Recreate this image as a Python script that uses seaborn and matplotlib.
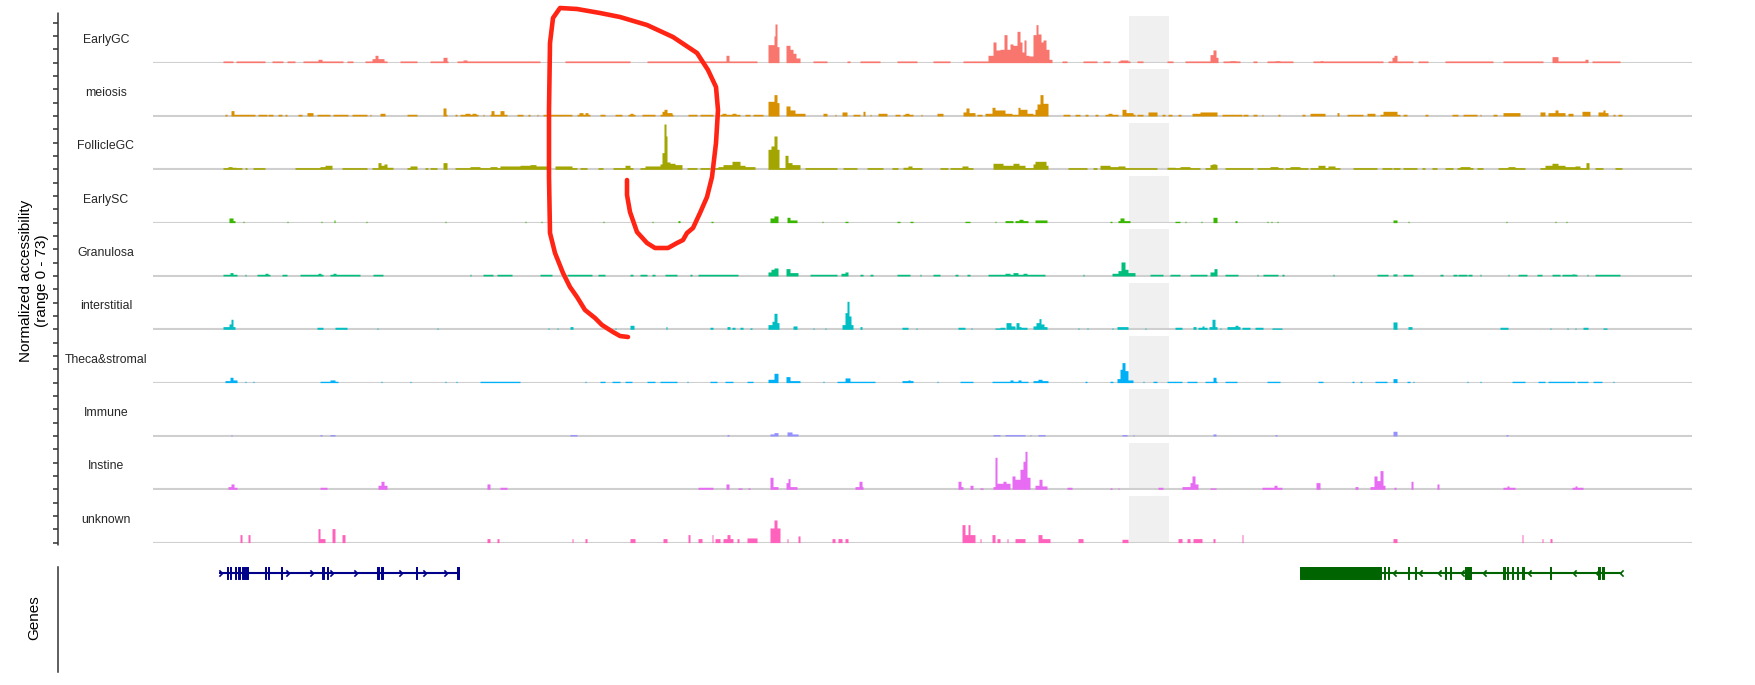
import numpy as np
import pandas as pd
import matplotlib
matplotlib.use("Agg")
import matplotlib.pyplot as plt
from matplotlib.lines import Line2D
import seaborn as sns

# ---------------- data ----------------
# genomic positions in units of 100 bp
REGION = (153, 1692)
HIGHLIGHT = (1129, 1169)
Y_RANGE = (0, 73)
THIN_LEVEL = 2.5

CELL_TYPES = ["EarlyGC", "meiosis", "FollicleGC", "EarlySC", "Granulosa",
              "interstitial", "Theca&stromal", "Immune", "Instine", "unknown"]
TRACK_COLORS = ["#F8766D", "#D89000", "#A3A500", "#39B600", "#00BF7D",
                "#00BFC4", "#00B0F6", "#9590FF", "#E76BF3", "#FF62BC"]

EARLYGC_LOW = [(223, 233), (236, 265), (272, 283), (287, 295), (303, 343), (347, 353), (365, 387),
               (400, 417), (430, 448), (457, 540), (565, 630), (647, 757), (813, 827), (847, 850),
               (860, 880), (897, 917), (933, 950), (963, 988), (1062, 1067), (1083, 1097), (1103, 1110),
               (1118, 1130), (1137, 1143), (1167, 1173), (1185, 1217), (1223, 1240), (1253, 1257),
               (1267, 1293), (1313, 1383), (1388, 1413), (1418, 1428), (1445, 1493), (1503, 1543),
               (1552, 1588), (1592, 1620)]
EARLYGC_PEAKS = [(318, 322, 5), (372, 375, 6), (375, 378, 11), (378, 384, 6), (443, 447, 8), (463, 467, 4),
                 (726, 729, 11), (768, 774, 27), (774, 775, 40), (775, 777, 58), (777, 779, 24),
                 (786, 790, 26), (790, 793, 20), (793, 796, 14), (796, 800, 7),
                 (988, 993, 11), (993, 996, 31), (996, 1000, 19), (1000, 1004, 20), (1004, 1007, 42),
                 (1007, 1010, 20), (1010, 1013, 28), (1013, 1017, 26), (1017, 1020, 47), (1020, 1022, 31),
                 (1022, 1024, 16), (1024, 1026, 34), (1026, 1029, 11), (1029, 1033, 10), (1033, 1036, 42),
                 (1036, 1038, 57), (1038, 1041, 43), (1041, 1043, 31), (1043, 1046, 34), (1046, 1049, 20),
                 (1049, 1052, 5), (1120, 1128, 4), (1210, 1213, 12), (1213, 1216, 19), (1216, 1218, 8),
                 (1230, 1236, 3), (1275, 1280, 3), (1320, 1323, 3), (1392, 1394, 8), (1394, 1397, 11),
                 (1552, 1558, 9), (1585, 1588, 5)]

MEIOSIS_LOW = [(225, 227), (233, 255), (258, 267), (268, 273), (278, 282), (285, 287), (298, 302),
               (307, 313), (317, 330), (333, 348), (352, 367), (370, 371), (380, 385), (407, 417),
               (443, 447), (455, 457), (460, 478), (483, 484), (490, 507), (517, 523), (528, 530),
               (537, 538), (543, 572), (577, 590), (600, 605), (615, 622), (628, 635), (642, 655),
               (660, 673), (688, 697), (700, 713), (720, 740), (745, 750), (753, 763), (786, 805),
               (823, 827), (835, 836), (842, 847), (853, 860), (863, 865), (870, 871), (878, 887),
               (895, 900), (903, 913), (921, 922), (937, 943), (963, 975), (977, 982), (985, 1048),
               (1063, 1070), (1075, 1080), (1085, 1088), (1095, 1098), (1105, 1118), (1122, 1135),
               (1137, 1143), (1148, 1157), (1162, 1165), (1168, 1172), (1178, 1181), (1192, 1200),
               (1202, 1215), (1222, 1242), (1243, 1248), (1253, 1257), (1262, 1263), (1278, 1280),
               (1302, 1305), (1310, 1325), (1337, 1339), (1347, 1363), (1367, 1375), (1380, 1400),
               (1403, 1407), (1425, 1428), (1452, 1458), (1463, 1477), (1480, 1481), (1493, 1497),
               (1503, 1520), (1540, 1545), (1548, 1565), (1568, 1573), (1582, 1590), (1598, 1608),
               (1613, 1615), (1618, 1622)]
MEIOSIS_PEAKS = [(231, 234, 8), (307, 313, 5), (380, 385, 4), (443, 446, 12), (465, 470, 4), (472, 476, 4),
                 (491, 494, 8), (500, 504, 8), (579, 583, 5), (585, 588, 5), (630, 633, 4), (662, 664, 7),
                 (664, 667, 10), (667, 672, 5), (722, 726, 4), (732, 736, 4),
                 (768, 774, 22), (774, 777, 32), (777, 779, 20), (786, 790, 15), (790, 795, 9), (795, 805, 4),
                 (823, 827, 4), (842, 847, 6), (863, 865, 7), (878, 887, 4), (905, 909, 4), (937, 943, 4),
                 (963, 966, 6), (966, 969, 12), (969, 975, 5), (985, 992, 4), (992, 995, 13), (995, 1005, 9),
                 (1005, 1012, 4), (1018, 1020, 13), (1020, 1027, 10), (1027, 1033, 4), (1035, 1037, 10),
                 (1037, 1040, 18), (1040, 1043, 32), (1043, 1048, 19), (1108, 1112, 4), (1122, 1126, 10),
                 (1126, 1133, 5), (1148, 1157, 6), (1192, 1200, 4), (1200, 1208, 6), (1208, 1217, 6),
                 (1310, 1325, 4), (1337, 1339, 5), (1367, 1375, 4), (1383, 1397, 7), (1503, 1520, 5),
                 (1540, 1545, 6), (1548, 1555, 5), (1555, 1558, 9), (1558, 1565, 5), (1568, 1573, 4),
                 (1582, 1590, 7), (1598, 1603, 6), (1603, 1605, 9), (1605, 1608, 5)]

FOLLICLEGC_LOW = [(223, 242), (245, 247), (253, 265), (295, 332), (342, 367), (372, 393), (407, 417),
                  (425, 428), (430, 437), (443, 447), (455, 548), (555, 577), (580, 587), (598, 603),
                  (613, 633), (640, 682), (687, 697), (700, 710), (713, 755), (768, 800), (805, 837),
                  (843, 857), (867, 883), (892, 898), (903, 922), (940, 948), (950, 973), (993, 1048),
                  (1068, 1087), (1093, 1097), (1100, 1157), (1167, 1200), (1205, 1217), (1225, 1253),
                  (1257, 1283), (1285, 1308), (1310, 1340), (1353, 1377), (1382, 1392), (1393, 1400),
                  (1403, 1417), (1422, 1425), (1432, 1437), (1445, 1453), (1457, 1473), (1477, 1483),
                  (1498, 1525), (1540, 1588), (1595, 1603), (1615, 1622)]
FOLLICLEGC_PEAKS = [(228, 232, 4), (232, 236, 3), (320, 325, 4), (325, 332, 6), (378, 381, 10), (381, 384, 6),
                    (384, 387, 8), (387, 393, 3), (410, 417, 5), (443, 447, 10), (470, 480, 4), (490, 497, 4),
                    (500, 520, 5), (520, 530, 6), (530, 536, 7), (536, 548, 5), (555, 565, 5), (565, 572, 5),
                    (625, 630, 6), (645, 660, 5), (660, 662, 8), (662, 664, 25), (664, 666, 68), (666, 667, 50),
                    (667, 670, 11), (670, 675, 9), (675, 682, 7),
                    (718, 723, 4), (723, 732, 7), (732, 740, 12), (740, 745, 6), (745, 755, 4),
                    (768, 771, 30), (771, 774, 35), (774, 777, 50), (777, 779, 30), (785, 788, 21),
                    (788, 792, 10), (792, 800, 7), (903, 908, 3), (908, 912, 5), (962, 968, 5),
                    (993, 1003, 9), (1003, 1013, 6), (1013, 1019, 9), (1019, 1025, 6), (1033, 1035, 8),
                    (1035, 1046, 12), (1046, 1048, 6), (1100, 1110, 6), (1110, 1118, 4), (1118, 1125, 5),
                    (1167, 1175, 3), (1180, 1190, 4), (1210, 1217, 7), (1212, 1216, 8), (1270, 1278, 4),
                    (1290, 1300, 4), (1318, 1325, 6), (1328, 1335, 5), (1460, 1470, 4), (1508, 1515, 4),
                    (1545, 1552, 6), (1552, 1558, 9), (1558, 1565, 6), (1565, 1575, 4), (1575, 1580, 5),
                    (1586, 1589, 10)]

EARLYSC_LOW = []
EARLYSC_PEAKS = [(229, 233, 7), (233, 235, 3), (243, 244, 2), (287, 288, 2), (321, 322, 2), (334, 335, 4),
                 (366, 367, 2), (445, 446, 2), (525, 526, 2), (541, 542, 2), (603, 604, 2), (652, 653, 2),
                 (678, 680, 3), (711, 713, 2), (770, 774, 7), (774, 778, 10), (787, 790, 8), (790, 797, 4),
                 (822, 823, 2), (845, 848, 2), (897, 900, 2), (910, 913, 2), (965, 970, 2), (995, 996, 2),
                 (1005, 1013, 3), (1015, 1028, 3), (1019, 1023, 5), (1035, 1047, 4), (1110, 1112, 2),
                 (1118, 1130, 3), (1120, 1124, 7), (1175, 1180, 2), (1185, 1186, 2), (1201, 1202, 2),
                 (1213, 1217, 8), (1235, 1237, 3), (1267, 1268, 2), (1271, 1272, 2), (1277, 1278, 2),
                 (1393, 1397, 4), (1408, 1409, 2), (1506, 1507, 2), (1555, 1556, 2), (1566, 1567, 2)]

GRANULOSA_LOW = [(223, 237), (245, 246), (257, 270), (282, 287), (300, 323), (330, 360), (373, 383),
                 (470, 471), (483, 493), (497, 512), (540, 552), (567, 592), (598, 605), (630, 633),
                 (640, 647), (652, 655), (665, 677), (690, 692), (698, 738), (770, 778), (786, 798),
                 (810, 837), (843, 848), (860, 863), (870, 873), (897, 910), (920, 921), (933, 940),
                 (955, 958), (967, 970), (988, 1045), (1083, 1084), (1112, 1135), (1150, 1163),
                 (1170, 1180), (1190, 1207), (1212, 1217), (1225, 1238), (1257, 1258), (1263, 1278),
                 (1282, 1284), (1333, 1334), (1377, 1388), (1393, 1397), (1403, 1413), (1440, 1443),
                 (1453, 1457), (1458, 1467), (1468, 1472), (1480, 1481), (1508, 1509), (1518, 1527),
                 (1537, 1542), (1552, 1560), (1562, 1577), (1587, 1588), (1595, 1620)]
GRANULOSA_PEAKS = [(230, 233, 5), (265, 268, 4), (318, 321, 4), (333, 336, 4), (768, 771, 6), (771, 774, 10),
                   (774, 778, 12), (786, 790, 11), (790, 798, 5), (841, 845, 4), (845, 848, 6),
                   (1005, 1010, 4), (1013, 1018, 5), (1023, 1027, 4), (1112, 1118, 4), (1118, 1121, 8),
                   (1121, 1125, 21), (1125, 1128, 10), (1128, 1135, 5), (1210, 1214, 6), (1214, 1217, 11),
                   (1393, 1397, 3), (1572, 1575, 3)]

INTERSTITIAL_LOW = []
INTERSTITIAL_PEAKS = [(223, 229, 4), (229, 231, 8), (231, 233, 15), (233, 235, 4), (317, 323, 3), (335, 347, 3),
                      (377, 378, 2), (437, 438, 2), (548, 549, 2), (557, 558, 2), (570, 573, 4), (615, 616, 2),
                      (630, 634, 6), (666, 667, 4), (710, 713, 3), (727, 730, 4), (732, 735, 3), (740, 743, 3),
                      (750, 752, 2), (768, 772, 7), (772, 774, 12), (774, 777, 24), (777, 779, 10),
                      (793, 797, 5), (813, 814, 2), (825, 826, 2), (842, 845, 7), (845, 847, 25),
                      (847, 849, 42), (849, 851, 20), (851, 853, 7), (860, 862, 4), (902, 908, 3),
                      (916, 917, 2), (958, 965, 3), (971, 972, 2), (995, 1000, 2), (1000, 1005, 3),
                      (1006, 1011, 10), (1011, 1015, 5), (1016, 1019, 10), (1019, 1021, 4), (1021, 1027, 3),
                      (1033, 1036, 5), (1036, 1039, 10), (1039, 1041, 16), (1041, 1044, 8), (1044, 1047, 4),
                      (1078, 1079, 2), (1087, 1088, 2), (1112, 1113, 2), (1117, 1128, 4), (1145, 1146, 2),
                      (1175, 1182, 3), (1193, 1196, 4), (1198, 1207, 3), (1202, 1204, 5), (1209, 1212, 4),
                      (1212, 1215, 15), (1215, 1217, 4), (1220, 1221, 2), (1227, 1240, 4), (1235, 1238, 6),
                      (1242, 1250, 3), (1255, 1263, 3), (1272, 1282, 2), (1393, 1397, 11), (1408, 1412, 4),
                      (1500, 1508, 3), (1550, 1551, 2), (1567, 1568, 2), (1575, 1576, 2), (1583, 1588, 3),
                      (1603, 1607, 2)]

THECA_LOW = []
THECA_PEAKS = [(225, 230, 3), (230, 233, 8), (233, 237, 4), (245, 246, 2), (253, 254, 2), (320, 338, 2),
               (330, 335, 4), (381, 382, 2), (410, 411, 2), (445, 446, 2), (456, 457, 2), (480, 520, 2),
               (585, 586, 2), (600, 605, 2), (612, 620, 2), (625, 632, 2), (647, 655, 2), (660, 677, 2),
               (687, 688, 2), (710, 717, 2), (725, 733, 2), (747, 753, 2), (768, 774, 5), (774, 778, 14),
               (786, 790, 9), (790, 800, 3), (823, 824, 2), (837, 875, 2), (845, 850, 7), (902, 913, 3),
               (908, 910, 4), (937, 938, 2), (960, 973, 2), (992, 1028, 2), (1010, 1013, 4), (1018, 1021, 4),
               (1033, 1048, 3), (1038, 1042, 5), (1085, 1087, 2), (1110, 1113, 2), (1117, 1120, 6),
               (1120, 1122, 20), (1122, 1125, 30), (1125, 1128, 18), (1128, 1133, 4), (1143, 1144, 2),
               (1153, 1157, 2), (1167, 1182, 2), (1187, 1197, 2), (1205, 1217, 2), (1213, 1216, 8),
               (1225, 1237, 2), (1267, 1280, 2), (1318, 1323, 2), (1352, 1354, 2), (1360, 1362, 2),
               (1375, 1387, 2), (1393, 1397, 6), (1407, 1410, 2), (1413, 1414, 2), (1467, 1468, 2),
               (1480, 1481, 2), (1512, 1525, 2), (1538, 1545, 2), (1548, 1575, 2), (1577, 1588, 2),
               (1593, 1602, 2), (1613, 1614, 2)]

IMMUNE_LOW = []
IMMUNE_PEAKS = [(231, 232, 2), (320, 322, 2), (330, 335, 2), (570, 577, 2), (727, 729, 2), (770, 774, 3),
                (774, 778, 5), (787, 792, 6), (792, 798, 3), (993, 1000, 2), (1005, 1025, 2), (1030, 1031, 2),
                (1038, 1045, 2), (1122, 1127, 2), (1133, 1134, 2), (1213, 1216, 3), (1275, 1277, 2),
                (1393, 1397, 7), (1506, 1508, 2)]

INSTINE_LOW = []
INSTINE_PEAKS = [(228, 231, 4), (231, 234, 8), (234, 237, 3), (320, 327, 3), (378, 381, 6), (381, 384, 12),
                 (384, 387, 6), (487, 490, 8), (500, 507, 3), (698, 713, 3), (726, 729, 8), (738, 742, 2),
                 (748, 750, 2), (770, 773, 18), (773, 778, 4), (786, 788, 10), (788, 790, 16), (790, 797, 4),
                 (855, 859, 4), (859, 862, 12), (862, 863, 4), (958, 961, 12), (961, 963, 4), (970, 973, 6),
                 (980, 983, 2), (993, 995, 4), (995, 997, 48), (997, 1003, 9), (1003, 1006, 12),
                 (1006, 1010, 9), (1012, 1015, 20), (1015, 1020, 15), (1020, 1023, 30), (1023, 1025, 42),
                 (1025, 1027, 57), (1027, 1030, 18), (1035, 1039, 6), (1039, 1042, 15), (1042, 1047, 5),
                 (1067, 1072, 3), (1110, 1112, 2), (1118, 1119, 2), (1158, 1163, 3), (1182, 1190, 4),
                 (1190, 1192, 10), (1192, 1195, 20), (1195, 1198, 8), (1210, 1216, 2), (1262, 1282, 3),
                 (1274, 1277, 6), (1316, 1320, 10), (1355, 1358, 4), (1370, 1374, 4), (1374, 1377, 20),
                 (1377, 1380, 13), (1380, 1383, 28), (1383, 1385, 6), (1394, 1396, 3), (1411, 1413, 12),
                 (1437, 1439, 8), (1503, 1515, 3), (1507, 1509, 5), (1572, 1583, 3), (1575, 1577, 5)]

UNKNOWN_LOW = []
UNKNOWN_PEAKS = [(240, 242, 12), (248, 250, 12), (318, 320, 21), (320, 325, 6), (332, 335, 21), (342, 345, 12),
                 (487, 490, 6), (497, 499, 6), (572, 573, 6), (585, 587, 6), (630, 635, 6), (663, 667, 6),
                 (688, 690, 12), (698, 702, 6), (712, 713, 12), (715, 720, 6), (723, 727, 6), (727, 730, 12),
                 (730, 733, 6), (737, 739, 6), (747, 757, 7), (770, 774, 22), (774, 777, 34), (777, 780, 22),
                 (787, 788, 6), (798, 800, 10), (832, 835, 6), (838, 842, 6), (845, 848, 6), (962, 965, 27),
                 (965, 968, 12), (968, 970, 27), (970, 975, 12), (980, 981, 6), (992, 995, 12), (997, 1000, 6),
                 (1007, 1008, 6), (1015, 1025, 6), (1038, 1042, 12), (1042, 1050, 6), (1078, 1083, 6),
                 (1122, 1128, 5), (1178, 1182, 6), (1187, 1190, 6), (1193, 1202, 6), (1213, 1215, 6),
                 (1242, 1243, 12), (1393, 1397, 6), (1522, 1523, 12), (1542, 1543, 6), (1550, 1552, 6)]

TRACK_LOW = [EARLYGC_LOW, MEIOSIS_LOW, FOLLICLEGC_LOW, EARLYSC_LOW, GRANULOSA_LOW,
             INTERSTITIAL_LOW, THECA_LOW, IMMUNE_LOW, INSTINE_LOW, UNKNOWN_LOW]
TRACK_PEAKS = [EARLYGC_PEAKS, MEIOSIS_PEAKS, FOLLICLEGC_PEAKS, EARLYSC_PEAKS, GRANULOSA_PEAKS,
               INTERSTITIAL_PEAKS, THECA_PEAKS, IMMUNE_PEAKS, INSTINE_PEAKS, UNKNOWN_PEAKS]

# genes
GENE_PLUS_SPAN = (219, 460)
GENE_PLUS_EXONS = [(227, 228), (230, 231), (235, 236), (238, 240), (242, 248), (265, 266), (268, 269),
                   (281, 282), (322, 324), (327, 328), (377, 379), (381, 383), (416, 417), (457, 459)]
GENE_PLUS_ARROWS = [222, 289, 313, 333, 357, 402, 426, 447]
GENE_MINUS_SPAN = (1300, 1622)
GENE_MINUS_EXONS = [(1300, 1381), (1384, 1385), (1388, 1389), (1408, 1409), (1415, 1416), (1445, 1446),
                    (1450, 1451), (1465, 1471), (1503, 1505), (1507, 1508), (1512, 1513), (1517, 1518),
                    (1522, 1524), (1550, 1551), (1598, 1600), (1602, 1604)]
GENE_MINUS_ARROWS = [1393, 1419, 1438, 1461, 1483, 1528, 1573, 1596, 1620]

# hand-drawn red annotation (figure pixel coordinates)
SCRIBBLE_X = [627, 627, 630, 637, 647, 655, 668, 677, 683, 687, 693, 700, 707, 712, 716, 718, 716, 708,
              697, 673, 647, 620, 600, 577, 560, 553, 550, 549, 549, 550, 555, 563, 570, 577, 585, 595,
              602, 613, 620, 628]
SCRIBBLE_Y = [180, 195, 212, 232, 243, 248, 248, 243, 240, 233, 228, 213, 197, 177, 143, 110, 87, 70,
              53, 37, 25, 17, 13, 9, 8, 18, 43, 110, 177, 233, 253, 273, 287, 297, 310, 318, 325, 332,
              336, 337]

# ---------------- drawing ----------------
sns.set_style("white")
plt.rcParams["font.family"] = ["Liberation Sans", "DejaVu Sans"]

W, H = 1756, 685
fig = plt.figure(figsize=(W / 100, H / 100), dpi=100)

edges = np.arange(REGION[0], REGION[1] + 1)
centers = edges[:-1] + 0.5


def coverage(low, peaks):
    v = np.zeros(len(centers))
    for s, e in low:
        m = (centers >= s) & (centers < e)
        v[m] = np.maximum(v[m], THIN_LEVEL)
    for s, e, h in peaks:
        m = (centers >= s) & (centers < e)
        v[m] = np.maximum(v[m], h)
    return pd.DataFrame({"pos": centers, "value": v})


AX_COLOR = "#333333"
panel_left, panel_w = 153, 1539
panel_h, panel_step, first_top = 47.3, 53.33, 16.0
outward_pts = (panel_left - 58) * 0.72

for i, (name, col) in enumerate(zip(CELL_TYPES, TRACK_COLORS)):
    top = first_top + panel_step * i
    ax = fig.add_axes([panel_left / W, 1 - (top + panel_h) / H, panel_w / W, panel_h / H])
    ax.set_facecolor("none")
    df = coverage(TRACK_LOW[i], TRACK_PEAKS[i])
    ax.axvspan(*HIGHLIGHT, color="#F0F0F0", zorder=0, lw=0)
    ax.axhline(0, color="#CFCFCF", lw=1.5, zorder=0.5)
    sns.histplot(data=df, x="pos", weights="value", binwidth=1, binrange=REGION,
                 element="step", fill=True, color=col, alpha=1, linewidth=0, ax=ax, zorder=2)
    ax.set_xlim(*REGION)
    ax.set_ylim(-1, 70)
    ax.set_xlabel("")
    ax.set_ylabel("")
    ax.set_xticks([])
    ax.set_yticks([0, 20, 40, 60])
    ax.set_yticklabels([])
    for s in ["top", "right", "bottom"]:
        ax.spines[s].set_visible(False)
    ax.spines["left"].set_position(("outward", outward_pts))
    ax.spines["left"].set_visible(False)
    ax.tick_params(axis="y", which="both", left=True, length=3.8, width=1.1, color=AX_COLOR,
                   direction="out")
    ax.text(-(panel_left - 106) / panel_w, 0.5, name, transform=ax.transAxes, ha="center",
            va="center", fontsize=8.8, color="#262626")

# continuous axis line for coverage tracks
fig.add_artist(Line2D([58 / W, 58 / W], [1 - 13.3 / H, 1 - 545 / H], color=AX_COLOR, lw=1.1))

fig.text(34 / W, 1 - 281 / H, "Normalized accessibility\n(range 0 - 73)", rotation=90,
         ha="center", va="center", multialignment="center", fontsize=11, color="black",
         linespacing=1.15)

# gene track
axg = fig.add_axes([panel_left / W, 1 - 672 / H, panel_w / W, 105 / H])
axg.set_facecolor("none")
axg.set_xlim(*REGION)
axg.set_ylim(-9, 0.5)
axg.set_xticks([])
axg.set_yticks([])
for s in ["top", "right", "bottom"]:
    axg.spines[s].set_visible(False)
axg.spines["left"].set_position(("outward", outward_pts))
axg.spines["left"].set_color(AX_COLOR)
axg.spines["left"].set_linewidth(1.1)

chev_right = [(-1, 1), (0, 0), (-1, -1)]
chev_left = [(1, 1), (0, 0), (1, -1)]
for span, exons, arrows, col, mk in [
        (GENE_PLUS_SPAN, GENE_PLUS_EXONS, GENE_PLUS_ARROWS, "#00008B", chev_right),
        (GENE_MINUS_SPAN, GENE_MINUS_EXONS, GENE_MINUS_ARROWS, "#006400", chev_left)]:
    axg.hlines(0, span[0], span[1], color=col, lw=1.5)
    axg.broken_barh([(s, e - s) for s, e in exons], (-0.6, 1.2), facecolors=col,
                    edgecolors=col, linewidth=0.7)
    axg.plot(arrows, np.zeros(len(arrows)), ls="none", marker=mk, ms=4.5, mec=col, mfc="none",
             mew=1.2)

fig.text(34 / W, 1 - 618 / H, "Genes", rotation=90, ha="center", va="center", fontsize=11,
         color="black")

# red hand-drawn annotation overlay
axo = fig.add_axes([0, 0, 1, 1])
axo.set_xlim(0, W)
axo.set_ylim(H, 0)
axo.axis("off")
axo.plot(SCRIBBLE_X, SCRIBBLE_Y, color="#FF2414", lw=3.3, solid_capstyle="round",
         solid_joinstyle="round")

fig.savefig("out.png", dpi=100)
